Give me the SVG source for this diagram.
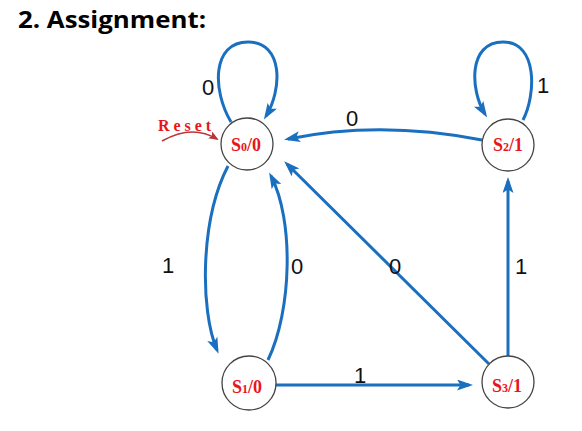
<svg xmlns="http://www.w3.org/2000/svg" width="582" height="431" viewBox="0 0 582 431">
<style>
.edge{fill:none;stroke:#1a6fbf;stroke-width:3;marker-end:url(#ah)}
.st{fill:#fff;stroke:#444;stroke-width:1.3}
.sl{font-family:"Liberation Serif","Times New Roman",serif;font-weight:bold;font-size:18px;fill:#e8161b;text-anchor:middle}
.sub{font-size:12px}
.lbl{font-family:"Liberation Sans",Arial,sans-serif;font-size:22px;fill:#111;text-anchor:middle}
</style>
<defs>
<marker id="ah" viewBox="0 0 16 11" refX="12" refY="5.5" markerWidth="16" markerHeight="11" markerUnits="userSpaceOnUse" orient="auto">
<path d="M0,0 L16,5.5 L0,11 L3.5,5.5 z" fill="#1a6fbf"/>
</marker>
<marker id="rh" viewBox="0 0 10 8" refX="8" refY="4" markerWidth="10" markerHeight="8" markerUnits="userSpaceOnUse" orient="auto">
<path d="M0,0 L10,4 L0,8 L2,4 z" fill="#b8373a"/>
</marker>
</defs>
<rect width="582" height="431" fill="#fff"/>
<text x="18" y="28" font-family="'Open Sans','Liberation Sans',sans-serif" font-weight="bold" font-size="24" textLength="188" lengthAdjust="spacingAndGlyphs" fill="#000">2. Assignment:</text>
<g id="connectors">
<path class="edge" d="M231,122 C212,90 212,42 248,42 C284,42 282,90 266,116"/>
<path class="edge" d="M523,120 C536,95 538,42 503,42 C468,42 470,90 485,114"/>
<path class="edge" d="M482,140 Q380,120 288,139"/>
<path class="edge" d="M228,166 C200,220 200,310 217,350"/>
<path class="edge" d="M268,360 C292,310 294,220 271,176"/>
<path class="edge" d="M489,364 L287,164"/>
<path class="edge" d="M276,385 L469,385"/>
<path class="edge" d="M508,356 L508,181"/>
<path d="M162,141 Q192,124 217,139" fill="none" stroke="#b8373a" stroke-width="1.6" marker-end="url(#rh)"/>
<text class="lbl" x="208" y="95">0</text>
<text class="lbl" x="543" y="93">1</text>
<text class="lbl" x="352" y="126">0</text>
<text class="lbl" x="168" y="273">1</text>
<text class="lbl" x="297" y="274">0</text>
<text class="lbl" x="395" y="274">0</text>
<text class="lbl" x="521" y="274">1</text>
<text class="lbl" x="360" y="383">1</text>
<text x="158" y="131" font-family="'Liberation Serif','Times New Roman',serif" font-weight="bold" font-size="16" fill="#e8161b" textLength="53" lengthAdjust="spacing">Reset</text>
</g>
<g id="S0"><circle class="st" cx="247" cy="144" r="26"/><text class="sl" x="246" y="151">S<tspan class="sub">0</tspan>/0</text></g>
<g id="S2"><circle class="st" cx="508" cy="145" r="26"/><text class="sl" x="508" y="151">S<tspan class="sub">2</tspan>/1</text></g>
<g id="S1"><circle class="st" cx="249" cy="383" r="27"/><text class="sl" x="247" y="393">S<tspan class="sub">1</tspan>/0</text></g>
<g id="S3"><circle class="st" cx="508" cy="382" r="26"/><text class="sl" x="507" y="392">S<tspan class="sub">3</tspan>/1</text></g>
</svg>
